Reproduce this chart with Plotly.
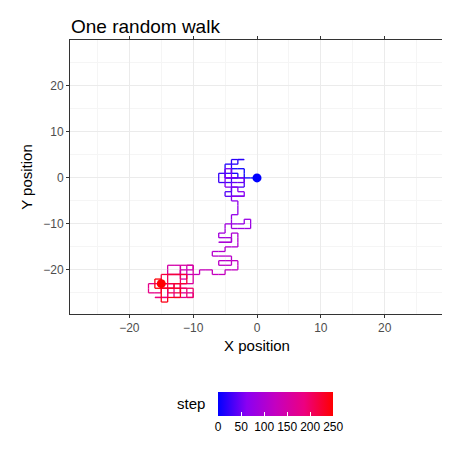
import plotly.graph_objects as go
from plotly.colors import sample_colorscale

moves = ("LLUULLDRDLLUUURRUR"
         "LLDDDLLDDRRURRDDLLDLDRRR"
         "LLUUURRULLLUURDDLDDRRDRDLLDRDD"
         "DLDDRRURDDLLLULDDLDRRDLL"
         "RRUURDDDLLDLLDRRRDLLDRRURDDLLD"
         "LLULLDLLURULDLDRDL"
         "UUULLDDRRUURRDDDDLLDDRRDLLLUUULLLLDDRRURDDLL"
         "RRUURRRDDRUULLUUULLDDDDRRUULLLUURRRRDDLLDLL"
         "RRRDDLLDLUUULUURDDU")

step = {"U": (0, 1), "D": (0, -1), "L": (-1, 0), "R": (1, 0)}
xs, ys = [0], [0]
for m in moves:
    dx, dy = step[m]
    xs.append(xs[-1] + dx)
    ys.append(ys[-1] + dy)
n = len(xs) - 1
steps = list(range(n + 1))

scale = [[0, "#0000FF"], [0.25, "#8A00F2"], [0.5, "#C400C0"], [0.75, "#EC0080"], [1, "#FF0000"]]
cols = sample_colorscale(scale, [s / n for s in steps])

fig = go.Figure()
for i in range(n):
    fig.add_trace(go.Scatter(x=xs[i:i + 2], y=ys[i:i + 2], mode="lines",
                             line=dict(color=cols[i], width=1.3),
                             hoverinfo="skip", showlegend=False))
fig.add_trace(go.Scatter(x=[xs[0], xs[-1]], y=[ys[0], ys[-1]], mode="markers",
                         marker=dict(size=9, color=[0, n], colorscale=scale, cmin=0, cmax=n,
                                     colorbar=dict(orientation="h", x=0.55, y=-0.248, xanchor="center",
                                                   yanchor="top", len=135, lenmode="pixels",
                                                   thickness=24, outlinewidth=0,
                                                   tickvals=[0, 50, 100, 150, 200, 250],
                                                   ticks="inside", ticklen=4, tickcolor="white",
                                                   tickfont=dict(size=12))),
                         showlegend=False))
fig.add_annotation(text="step", xref="paper", yref="paper", x=0.365, y=-0.325, xanchor="right",
                   yanchor="middle", showarrow=False, font=dict(size=15))

ax = dict(showgrid=True, gridcolor="#EBEBEB", zeroline=False, showline=True, mirror="all",
          linecolor="#333333", linewidth=1, ticks="outside", ticklen=3, tickcolor="#333333",
          tickfont=dict(size=12, color="#4D4D4D"), tickvals=[-20, -10, 0, 10, 20],
          minor=dict(showgrid=True, gridcolor="#F5F5F5"))
fig.update_layout(
    width=450, height=450, plot_bgcolor="white", paper_bgcolor="white",
    font=dict(family="Liberation Sans, Arial", color="black"),
    title=dict(text="One random walk", x=0.14, xanchor="left", y=0.975, font=dict(size=19)),
    margin=dict(l=62, r=10, t=32, b=132),
    xaxis=dict(ax, range=[-29.3, 29.3], title=dict(text="X position", font=dict(size=15), standoff=6)),
    yaxis=dict(ax, range=[-29.6, 30], title=dict(text="Y position", font=dict(size=15), standoff=6)),
)
fig.write_html("out.html")
